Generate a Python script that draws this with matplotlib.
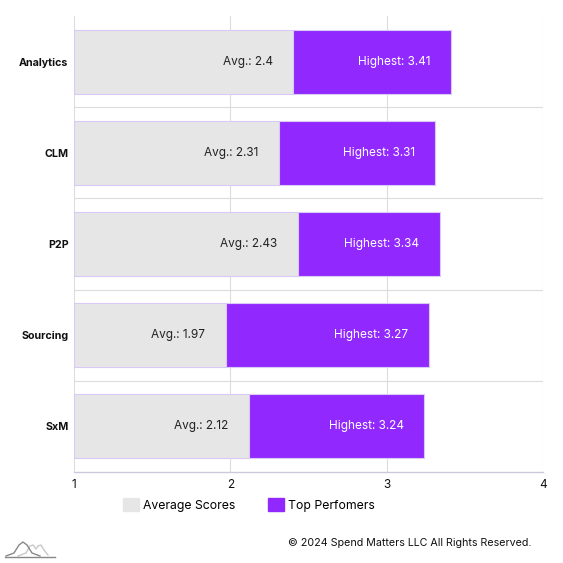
import matplotlib.pyplot as plt
from matplotlib.patches import Patch
from matplotlib.lines import Line2D

categories = ["Analytics", "CLM", "P2P", "Sourcing", "SxM"]
avg_scores = [2.4, 2.31, 2.43, 1.97, 2.12]
top_scores = [3.41, 3.31, 3.34, 3.27, 3.24]
x_ticks = [1, 2, 3, 4]

GREY = "#e6e6e6"
PURPLE = "#9129ff"
EDGE = "#d9c9f5"
GRID = "#dcdcdc"

plt.rcParams["font.family"] = ["Inter", "DejaVu Sans"]

W = 563
fig = plt.figure(figsize=(5.63, 5.63), dpi=100)
ax = fig.add_axes([74 / W, 1 - 472 / W, (543 - 74) / W, (472 - 16) / W])

ypos = list(range(len(categories)))
base = x_ticks[0]

ax.barh(ypos, [a - base for a in avg_scores], left=base, height=0.7,
        color=GREY, edgecolor=EDGE, linewidth=0.8, zorder=3)
ax.barh(ypos, [t - a for t, a in zip(top_scores, avg_scores)], left=avg_scores,
        height=0.7, color=PURPLE, edgecolor=EDGE, linewidth=0.8, zorder=3)

for y, a, t in zip(ypos, avg_scores, top_scores):
    ax.text(a - 0.13, y, f"Avg.: {a}", ha="right", va="center",
            fontsize=8.5, color="#222222", zorder=4)
    ax.text(t - 0.13, y, f"Highest: {t}", ha="right", va="center",
            fontsize=8.5, color="white", zorder=4)

ax.set_xlim(1, 4)
ax.set_ylim(len(categories) - 0.5, -0.5)
ax.set_xticks(x_ticks)
ax.set_xticklabels([str(v) for v in x_ticks])
ax.set_yticks(ypos)
ax.set_yticklabels(categories, fontweight="bold")
ax.tick_params(axis="x", length=0, pad=5, labelsize=8.5, colors="#111111")
ax.tick_params(axis="y", length=0, pad=4, labelsize=7.7, colors="#111111")

for v in x_ticks:
    ax.axvline(v, color=GRID, linewidth=0.8, zorder=1)
for y in ypos[:-1]:
    ax.axhline(y + 0.5, color=GRID, linewidth=0.8, zorder=1)

for side in ["top", "right", "left"]:
    ax.spines[side].set_visible(False)
ax.spines["bottom"].set_color("#cfc8dc")
ax.spines["bottom"].set_linewidth(1.0)

handles = [Patch(facecolor=GREY, edgecolor=GREY, label="Average Scores"),
           Patch(facecolor=PURPLE, edgecolor=PURPLE, label="Top Perfomers")]
fig.legend(handles=handles, loc="center", bbox_to_anchor=(249 / W, 1 - 505 / W),
           ncol=2, frameon=False, fontsize=8.8, handlelength=1.3, handleheight=1.3,
           handletextpad=0.35, columnspacing=2.6)

fig.text(532 / W, 1 - 543 / W, "© 2024 Spend Matters LLC All Rights Reserved.",
         ha="right", va="center", fontsize=7.7, color="#111111")

# small logo, bottom left
px = lambda x, y: (x / W, 1 - y / W)
lx1, ly1 = zip(*[px(*p) for p in [(6, 556), (14, 553), (19, 545), (23, 542),
                                   (27, 545), (32, 553), (40, 556)]])
lx2, ly2 = zip(*[px(*p) for p in [(18, 556), (26, 553), (30, 546), (33, 545),
                                   (36, 549), (38, 546), (41, 545), (44, 550),
                                   (48, 555)]])
lx3, ly3 = zip(*[px(*p) for p in [(5, 557), (55, 557)]])
fig.add_artist(Line2D(lx2, ly2, color="#c8c8c8", linewidth=1.0))
fig.add_artist(Line2D(lx1, ly1, color="#888888", linewidth=1.0))
fig.add_artist(Line2D(lx3, ly3, color="#888888", linewidth=1.0))

plt.savefig("out.png", dpi=100)
plt.close()
